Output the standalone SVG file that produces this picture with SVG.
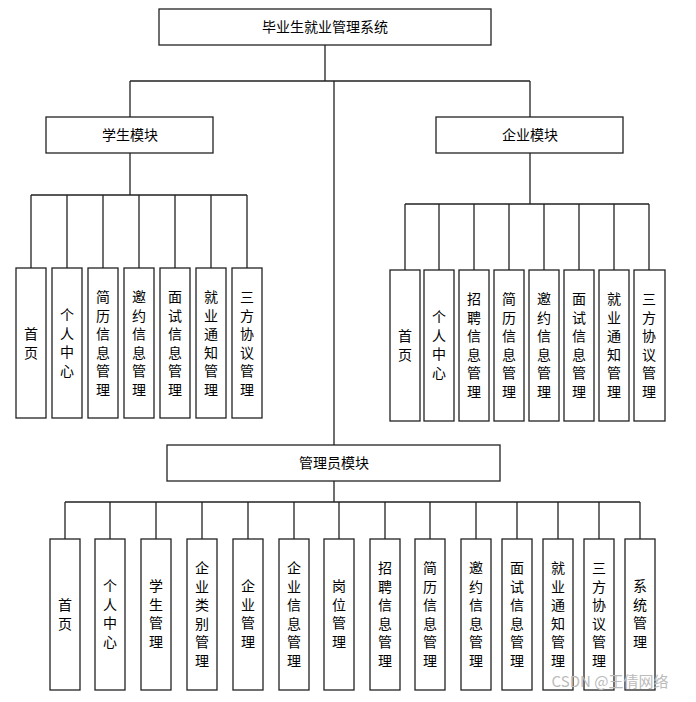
<svg xmlns="http://www.w3.org/2000/svg" width="696" height="702" viewBox="0 0 696 702">
<style>
rect{fill:#fff;stroke:#222;stroke-width:1.3}
text{font-family:"Noto Sans CJK SC","Liberation Sans",sans-serif;font-size:14px;fill:#000;text-anchor:middle}
.c path{fill:none;stroke:#222;stroke-width:1.3}
</style>
<rect width="696" height="702" style="fill:#fff;stroke:none"/>
<g class="c" id="connectors">
<path d="M325 45V81M130 81H530M130 81V117M530 81V117M334 81V445"/>
<path d="M130 153V195M31 195H247M31 195V268M67 195V268M103 195V268M139 195V268M175 195V268M211 195V268M247 195V268"/>
<path d="M530 153V204M405 204H649M405 204V270M439 204V270M474 204V270M509 204V270M544 204V270M579 204V270M614 204V270M649 204V270"/>
<path d="M334 481V502M65 502H640M65 502V539M110 502V539M156 502V539M202 502V539M248 502V539M294 502V539M339 502V539M385 502V539M430 502V539M476 502V539M517 502V539M558 502V539M599 502V539M640 502V539"/>
</g>
<g id="root"><rect x="159" y="9" width="332" height="36"/><text x="325" y="32">毕业生就业管理系统</text></g>
<g id="student"><rect x="46" y="117" width="167" height="36"/><text x="130" y="140">学生模块</text></g>
<g id="enterprise"><rect x="436" y="117" width="187" height="36"/><text x="530" y="140">企业模块</text></g>
<g id="admin"><rect x="167" y="445" width="333" height="36"/><text x="334" y="468">管理员模块</text></g>

<g id="s1"><rect x="16" y="268" width="30" height="150"/><text x="31" y="339">首<tspan x="31" dy="18.5">页</tspan></text></g>
<g id="s2"><rect x="52" y="268" width="30" height="150"/><text x="67" y="320">个<tspan x="67" dy="18.5">人</tspan><tspan x="67" dy="18.5">中</tspan><tspan x="67" dy="18.5">心</tspan></text></g>
<g id="s3"><rect x="88" y="268" width="30" height="150"/><text x="103" y="302">简<tspan x="103" dy="18.5">历</tspan><tspan x="103" dy="18.5">信</tspan><tspan x="103" dy="18.5">息</tspan><tspan x="103" dy="18.5">管</tspan><tspan x="103" dy="18.5">理</tspan></text></g>
<g id="s4"><rect x="124" y="268" width="30" height="150"/><text x="139" y="302">邀<tspan x="139" dy="18.5">约</tspan><tspan x="139" dy="18.5">信</tspan><tspan x="139" dy="18.5">息</tspan><tspan x="139" dy="18.5">管</tspan><tspan x="139" dy="18.5">理</tspan></text></g>
<g id="s5"><rect x="160" y="268" width="30" height="150"/><text x="175" y="302">面<tspan x="175" dy="18.5">试</tspan><tspan x="175" dy="18.5">信</tspan><tspan x="175" dy="18.5">息</tspan><tspan x="175" dy="18.5">管</tspan><tspan x="175" dy="18.5">理</tspan></text></g>
<g id="s6"><rect x="196" y="268" width="30" height="150"/><text x="211" y="302">就<tspan x="211" dy="18.5">业</tspan><tspan x="211" dy="18.5">通</tspan><tspan x="211" dy="18.5">知</tspan><tspan x="211" dy="18.5">管</tspan><tspan x="211" dy="18.5">理</tspan></text></g>
<g id="s7"><rect x="232" y="268" width="30" height="150"/><text x="247" y="302">三<tspan x="247" dy="18.5">方</tspan><tspan x="247" dy="18.5">协</tspan><tspan x="247" dy="18.5">议</tspan><tspan x="247" dy="18.5">管</tspan><tspan x="247" dy="18.5">理</tspan></text></g>

<g id="e1"><rect x="390" y="270" width="30" height="151"/><text x="405" y="341">首<tspan x="405" dy="18.5">页</tspan></text></g>
<g id="e2"><rect x="424" y="270" width="30" height="151"/><text x="439" y="322">个<tspan x="439" dy="18.5">人</tspan><tspan x="439" dy="18.5">中</tspan><tspan x="439" dy="18.5">心</tspan></text></g>
<g id="e3"><rect x="459" y="270" width="30" height="151"/><text x="474" y="304">招<tspan x="474" dy="18.5">聘</tspan><tspan x="474" dy="18.5">信</tspan><tspan x="474" dy="18.5">息</tspan><tspan x="474" dy="18.5">管</tspan><tspan x="474" dy="18.5">理</tspan></text></g>
<g id="e4"><rect x="494" y="270" width="30" height="151"/><text x="509" y="304">简<tspan x="509" dy="18.5">历</tspan><tspan x="509" dy="18.5">信</tspan><tspan x="509" dy="18.5">息</tspan><tspan x="509" dy="18.5">管</tspan><tspan x="509" dy="18.5">理</tspan></text></g>
<g id="e5"><rect x="529" y="270" width="30" height="151"/><text x="544" y="304">邀<tspan x="544" dy="18.5">约</tspan><tspan x="544" dy="18.5">信</tspan><tspan x="544" dy="18.5">息</tspan><tspan x="544" dy="18.5">管</tspan><tspan x="544" dy="18.5">理</tspan></text></g>
<g id="e6"><rect x="564" y="270" width="30" height="151"/><text x="579" y="304">面<tspan x="579" dy="18.5">试</tspan><tspan x="579" dy="18.5">信</tspan><tspan x="579" dy="18.5">息</tspan><tspan x="579" dy="18.5">管</tspan><tspan x="579" dy="18.5">理</tspan></text></g>
<g id="e7"><rect x="599" y="270" width="30" height="151"/><text x="614" y="304">就<tspan x="614" dy="18.5">业</tspan><tspan x="614" dy="18.5">通</tspan><tspan x="614" dy="18.5">知</tspan><tspan x="614" dy="18.5">管</tspan><tspan x="614" dy="18.5">理</tspan></text></g>
<g id="e8"><rect x="634" y="270" width="31" height="151"/><text x="649" y="304">三<tspan x="649" dy="18.5">方</tspan><tspan x="649" dy="18.5">协</tspan><tspan x="649" dy="18.5">议</tspan><tspan x="649" dy="18.5">管</tspan><tspan x="649" dy="18.5">理</tspan></text></g>

<g id="a1"><rect x="50" y="539" width="30" height="151"/><text x="65" y="610">首<tspan x="65" dy="18.5">页</tspan></text></g>
<g id="a2"><rect x="95" y="539" width="30" height="151"/><text x="110" y="591">个<tspan x="110" dy="18.5">人</tspan><tspan x="110" dy="18.5">中</tspan><tspan x="110" dy="18.5">心</tspan></text></g>
<g id="a3"><rect x="141" y="539" width="30" height="151"/><text x="156" y="591">学<tspan x="156" dy="18.5">生</tspan><tspan x="156" dy="18.5">管</tspan><tspan x="156" dy="18.5">理</tspan></text></g>
<g id="a4"><rect x="187" y="539" width="30" height="151"/><text x="202" y="573">企<tspan x="202" dy="18.5">业</tspan><tspan x="202" dy="18.5">类</tspan><tspan x="202" dy="18.5">别</tspan><tspan x="202" dy="18.5">管</tspan><tspan x="202" dy="18.5">理</tspan></text></g>
<g id="a5"><rect x="233" y="539" width="30" height="151"/><text x="248" y="591">企<tspan x="248" dy="18.5">业</tspan><tspan x="248" dy="18.5">管</tspan><tspan x="248" dy="18.5">理</tspan></text></g>
<g id="a6"><rect x="279" y="539" width="30" height="151"/><text x="294" y="573">企<tspan x="294" dy="18.5">业</tspan><tspan x="294" dy="18.5">信</tspan><tspan x="294" dy="18.5">息</tspan><tspan x="294" dy="18.5">管</tspan><tspan x="294" dy="18.5">理</tspan></text></g>
<g id="a7"><rect x="324" y="539" width="30" height="151"/><text x="339" y="591">岗<tspan x="339" dy="18.5">位</tspan><tspan x="339" dy="18.5">管</tspan><tspan x="339" dy="18.5">理</tspan></text></g>
<g id="a8"><rect x="370" y="539" width="30" height="151"/><text x="385" y="573">招<tspan x="385" dy="18.5">聘</tspan><tspan x="385" dy="18.5">信</tspan><tspan x="385" dy="18.5">息</tspan><tspan x="385" dy="18.5">管</tspan><tspan x="385" dy="18.5">理</tspan></text></g>
<g id="a9"><rect x="415" y="539" width="30" height="151"/><text x="430" y="573">简<tspan x="430" dy="18.5">历</tspan><tspan x="430" dy="18.5">信</tspan><tspan x="430" dy="18.5">息</tspan><tspan x="430" dy="18.5">管</tspan><tspan x="430" dy="18.5">理</tspan></text></g>
<g id="a10"><rect x="461" y="539" width="30" height="151"/><text x="476" y="573">邀<tspan x="476" dy="18.5">约</tspan><tspan x="476" dy="18.5">信</tspan><tspan x="476" dy="18.5">息</tspan><tspan x="476" dy="18.5">管</tspan><tspan x="476" dy="18.5">理</tspan></text></g>
<g id="a11"><rect x="502" y="539" width="30" height="151"/><text x="517" y="573">面<tspan x="517" dy="18.5">试</tspan><tspan x="517" dy="18.5">信</tspan><tspan x="517" dy="18.5">息</tspan><tspan x="517" dy="18.5">管</tspan><tspan x="517" dy="18.5">理</tspan></text></g>
<g id="a12"><rect x="543" y="539" width="30" height="151"/><text x="558" y="573">就<tspan x="558" dy="18.5">业</tspan><tspan x="558" dy="18.5">通</tspan><tspan x="558" dy="18.5">知</tspan><tspan x="558" dy="18.5">管</tspan><tspan x="558" dy="18.5">理</tspan></text></g>
<g id="a13"><rect x="584" y="539" width="30" height="151"/><text x="599" y="573">三<tspan x="599" dy="18.5">方</tspan><tspan x="599" dy="18.5">协</tspan><tspan x="599" dy="18.5">议</tspan><tspan x="599" dy="18.5">管</tspan><tspan x="599" dy="18.5">理</tspan></text></g>
<g id="a14"><rect x="625" y="539" width="30" height="151"/><text x="640" y="591">系<tspan x="640" dy="18.5">统</tspan><tspan x="640" dy="18.5">管</tspan><tspan x="640" dy="18.5">理</tspan></text></g>

<text x="610" y="687" style="font-size:15px;fill:#bbb">CSDN @王倩网络</text>
</svg>
